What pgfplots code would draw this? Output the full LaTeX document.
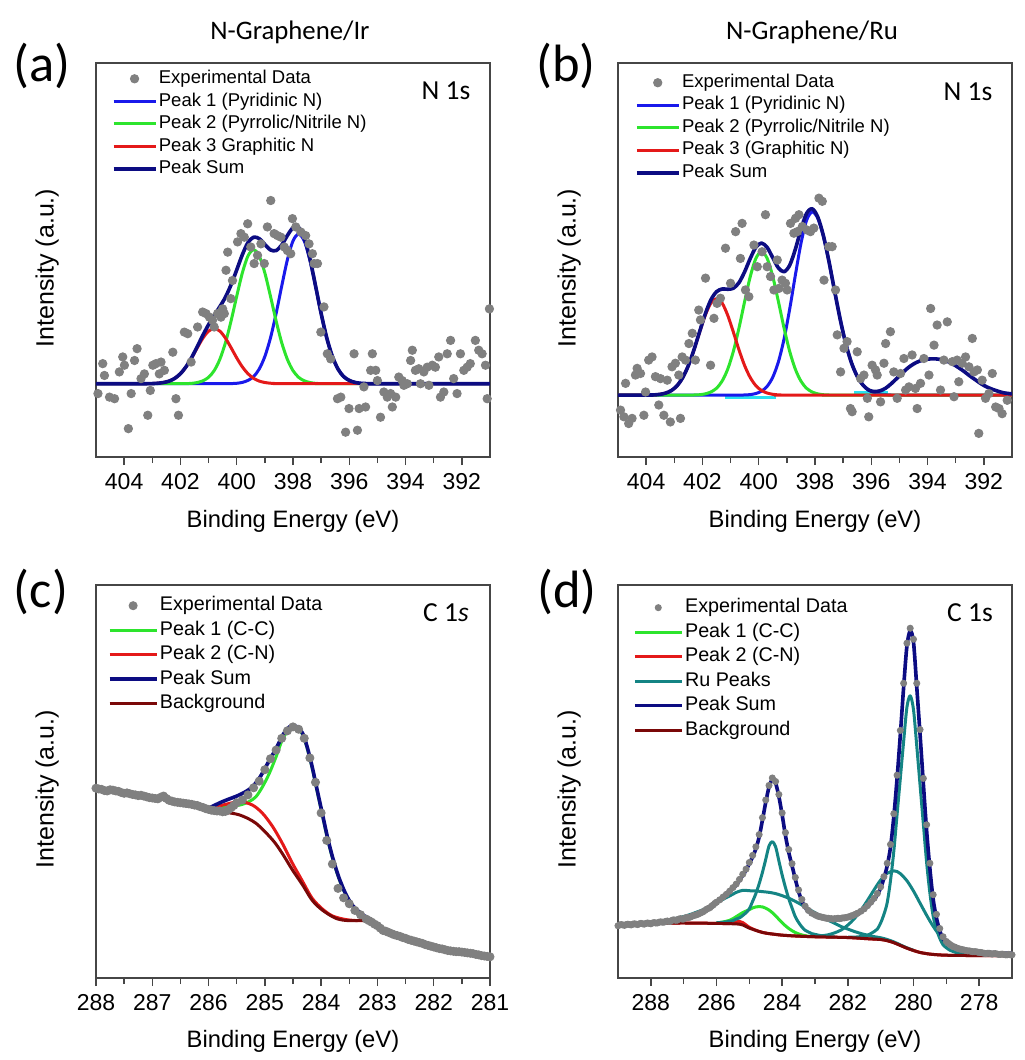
\documentclass[border=0pt]{standalone}
\usepackage{fontspec}
\setmainfont{Liberation Sans}
\newfontfamily\calfont{Carlito}
\usepackage{pgfplots}
\pgfplotsset{compat=1.18}

\definecolor{dotgray}{RGB}{128,128,128}
\definecolor{pkblue}{RGB}{25,25,235}
\definecolor{pkgreen}{RGB}{45,228,45}
\definecolor{pkred}{RGB}{228,25,25}
\definecolor{pksum}{RGB}{12,12,130}
\definecolor{bgred}{RGB}{122,8,8}
\definecolor{rupk}{RGB}{20,132,132}
\definecolor{pkcyan}{RGB}{40,225,240}
\definecolor{frame}{RGB}{70,70,70}

\pgfplotsset{
  panel/.style={
    scale only axis, width=157.6pt, height=157.6pt,
    anchor=south west,
    x dir=reverse,
    axis line style={draw=frame, line width=0.55pt},
    ytick=\empty,
    xtick pos=bottom,
    tick align=outside,
    major tick length=3.2pt, minor tick length=2.4pt,
    every tick/.style={draw=frame, line width=0.55pt},
    minor x tick num=1,
    /pgf/number format/assume math mode=true,
    /pgf/number format/1000 sep={},
    xticklabel style={font=\fontsize{9.2}{11}\selectfont},
    xlabel={Binding Energy (eV)},
    ylabel={Intensity (a.u.)},
    xlabel style={font=\fontsize{9.5}{11}\selectfont, at={(axis description cs:0.5,-0.178)}, anchor=base},
    ylabel style={font=\fontsize{10}{12}\selectfont, at={(axis description cs:-0.124,0.48)}, anchor=center},
    legend cell align=left,
    legend style={draw=none, fill=none, anchor=north west, inner sep=0pt, outer sep=0pt,
      column sep=0pt, row sep=0.8pt,
      font=\fontsize{7.4}{9}\selectfont,
      nodes={inner sep=0.6pt, text height=5.4pt, text depth=1.6pt}},
    legend image code/.code={\draw[mark repeat=2,mark phase=2,#1] plot coordinates {(0pt,0pt) (8.4pt,0pt) (16.8pt,0pt)};},
  },
  cpanel/.style={
    legend style={row sep=1.1pt, font=\fontsize{7.9}{9.5}\selectfont,
      nodes={inner sep=0.6pt, text height=5.8pt, text depth=1.7pt}},
    legend image code/.code={\draw[mark repeat=2,mark phase=2,#1] plot coordinates {(0pt,0pt) (9.4pt,0pt) (18.8pt,0pt)};},
  },
  expdata/.style={only marks, mark=*, mark size=1.65pt, draw=dotgray, fill=dotgray},
  comp/.style={line width=1.2pt, smooth, line join=round},
  sumline/.style={line width=1.45pt, smooth, line join=round, pksum},
}

\begin{document}
\begin{tikzpicture}
\useasboundingbox (0,0) rectangle (410pt,-424pt);

% ---------------- (a) N 1s, N-Graphene/Ir ----------------
\begin{axis}[panel, at={(38.4pt,-182.8pt)},
  xmin=391, xmax=405, ymin=-18.6, ymax=81.4,
  xtick={392,394,...,404},
  legend style={at={(0.04,0.986)}}]
\addplot[expdata] coordinates {
(404.93,-2.5) (404.76,5.1) (404.70,2.1) (404.52,-3.4) (404.34,-3.8) (404.17,3.0) (404.05,6.8) (403.99,4.7)
(403.85,-11.4) (403.75,-2.5) (403.63,5.9) (403.54,8.9) (403.40,1.3) (403.28,2.5) (403.16,-8.0) (403.07,-1.7)
(402.98,4.7) (402.87,5.1) (402.75,2.5) (402.69,5.5) (402.57,3.4) (402.27,8.0) (402.16,-3.8) (402.07,-8.0)
(401.86,13.1) (401.74,12.7) (401.62,5.5) (401.39,14.4) (401.21,18.2) (401.09,17.8) (400.97,16.9) (400.86,16.1)
(400.80,14.4) (400.68,17.8) (400.56,16.9) (400.50,19.0) (400.44,17.8) (400.38,28.8) (400.32,33.4) (400.21,21.6)
(400.15,26.2) (399.97,36.0) (399.85,38.1) (399.73,37.2) (399.61,40.6) (399.50,34.7) (399.38,30.5) (399.26,32.6)
(399.14,35.5) (399.02,30.5) (398.91,39.8) (398.79,46.5) (398.67,38.1) (398.55,37.6) (398.43,37.2) (398.31,34.7)
(398.20,33.8) (398.08,33.0) (398.02,41.9) (397.90,39.8) (397.72,38.5) (397.55,37.6) (397.43,35.5) (397.31,33.0)
(397.25,30.5) (397.13,30.5) (397.01,13.1) (396.90,19.5) (396.78,7.6) (396.66,6.3) (396.42,-3.8) (396.30,-3.4)
(396.13,-12.3) (396.01,-6.3) (395.83,7.6) (395.71,-11.8) (395.65,-6.3) (395.48,-0.8) (395.42,-5.9) (395.24,3.4)
(395.18,7.6) (395.06,3.4) (395.00,0.8) (394.89,-8.5) (394.77,-2.1) (394.65,-3.4) (394.53,-2.5) (394.47,-5.9)
(394.35,-3.4) (394.24,1.7) (394.12,0.8) (394.06,-0.4) (393.94,0.0) (393.82,5.9) (393.76,8.5) (393.65,3.4)
(393.53,3.8) (393.47,0.0) (393.35,3.0) (393.23,4.2) (393.17,-0.4) (393.05,4.7) (392.94,4.2) (392.82,6.8)
(392.76,-3.4) (392.64,-2.1) (392.52,7.6) (392.40,11.0) (392.29,1.3) (392.17,-2.5) (392.05,7.6) (391.93,3.4)
(391.81,4.2) (391.70,5.1) (391.52,11.0) (391.40,8.5) (391.28,7.6) (391.16,4.7) (391.10,-3.8) (391.02,19.0)
};
\addlegendentry{Experimental Data}
\addplot[comp, pkblue] coordinates {
(405,0) (400.6,0) (400.4,0) (400.2,0.04) (400.0,0.11) (399.8,0.34) (399.6,0.84) (399.4,1.82) (399.2,3.72)
(399.0,6.92) (398.8,11.63) (398.6,17.82) (398.4,24.81) (398.2,31.43) (398.0,36.25) (397.8,38) (397.6,36.25)
(397.4,31.43) (397.2,24.81) (397.0,17.82) (396.8,11.63) (396.6,6.92) (396.4,3.72) (396.2,1.82) (396.0,0.84)
(395.8,0.34) (395.6,0.11) (395.4,0.04) (395.2,0) (391,0)
};
\addlegendentry{Peak 1 (Pyridinic N)}
\addplot[comp, pkgreen] coordinates {
(405,0) (402.2,0) (402.0,0) (401.8,0.03) (401.6,0.10) (401.4,0.31) (401.2,0.75) (401.0,1.63) (400.8,3.33)
(400.6,6.19) (400.4,10.40) (400.2,15.95) (400.0,22.20) (399.8,28.12) (399.6,32.44) (399.4,34) (399.2,32.44)
(399.0,28.12) (398.8,22.20) (398.6,15.95) (398.4,10.40) (398.2,6.19) (398.0,3.33) (397.8,1.63) (397.6,0.75)
(397.4,0.31) (397.2,0.10) (397.0,0.03) (396.8,0) (391,0)
};
\addlegendentry{Peak 2 (Pyrrolic/Nitrile N)}
\addplot[comp, pkred] coordinates {
(405,0) (403.6,0) (403.4,0) (403.2,0.01) (403.0,0.04) (402.8,0.13) (402.6,0.31) (402.4,0.67) (402.2,1.37)
(402.0,2.55) (401.8,4.28) (401.6,6.57) (401.4,9.14) (401.2,11.58) (401.0,13.36) (400.8,14) (400.6,13.36)
(400.4,11.58) (400.2,9.14) (400.0,6.57) (399.8,4.28) (399.6,2.55) (399.4,1.37) (399.2,0.67) (399.0,0.31)
(398.8,0.13) (398.6,0.04) (398.4,0.01) (398.2,0) (391,0)
};
\addlegendentry{Peak 3 Graphitic N}
\addplot[sumline] coordinates {
(405,0) (403.4,0) (403.2,0.01) (403.0,0.04) (402.8,0.13) (402.6,0.31) (402.4,0.67) (402.2,1.37) (402.0,2.55)
(401.8,4.31) (401.6,6.67) (401.4,9.45) (401.2,12.33) (401.0,14.99) (400.8,17.33) (400.6,19.55) (400.4,21.98)
(400.2,25.13) (400.0,28.88) (399.8,32.74) (399.6,35.83) (399.4,37.19) (399.2,36.83) (399.0,35.35) (398.8,33.96)
(398.6,33.81) (398.4,35.22) (398.2,37.62) (398.0,39.58) (397.8,39.63) (397.6,37.0) (397.4,31.74) (397.2,24.91)
(397.0,17.85) (396.8,11.63) (396.6,6.92) (396.4,3.72) (396.2,1.82) (396.0,0.84) (395.8,0.34) (395.6,0.11)
(395.4,0.04) (395.2,0) (391,0)
};
\addlegendentry{Peak Sum}
\end{axis}

% ---------------- (b) N 1s, N-Graphene/Ru ----------------
\begin{axis}[panel, at={(247.2pt,-182.8pt)},
  xmin=391, xmax=405, ymin=-15.7, ymax=84.3,
  xtick={392,394,...,404},
  legend style={at={(0.043,0.976)}}]
\addplot[expdata] coordinates {
(404.91,-3.8) (404.79,-5.5) (404.73,3.0) (404.62,-7.2) (404.50,-5.9) (404.38,5.1) (404.32,6.8) (404.20,5.5)
(404.08,-5.1) (404.02,0.8) (403.91,8.9) (403.79,9.7) (403.67,4.7) (403.55,-2.5) (403.49,4.2) (403.37,-5.1)
(403.25,3.8) (403.14,-6.8) (403.08,7.2) (402.96,8.1) (402.84,5.1) (402.78,-5.9) (402.72,9.7) (402.60,8.9)
(402.48,13.1) (402.36,15.7) (402.25,8.9) (402.13,21.6) (402.07,19.1) (401.89,29.7) (401.71,7.6) (401.59,19.5)
(401.48,23.3) (401.36,24.6) (401.18,37.3) (401.00,28.4) (400.82,41.5) (400.65,34.7) (400.59,43.6) (400.47,26.7)
(400.35,25.0) (400.17,38.1) (400.05,32.6) (399.88,36.4) (399.76,45.8) (399.70,32.6) (399.58,30.1) (399.46,26.7)
(399.34,34.3) (399.28,27.1) (399.17,29.2) (399.05,28.4) (398.99,26.7) (398.87,43.6) (398.75,41.1) (398.69,44.9)
(398.63,41.5) (398.57,45.8) (398.45,42.8) (398.28,41.9) (398.16,41.5) (398.04,42.4) (397.86,50.0) (397.74,49.2)
(397.68,29.2) (397.51,37.7) (397.39,37.7) (397.27,26.7) (397.21,15.3) (397.09,5.9) (396.97,11.9) (396.86,13.6)
(396.74,-3.4) (396.68,-4.2) (396.50,11.0) (396.38,4.2) (396.26,5.1) (396.14,-0.8) (396.09,-5.5) (395.97,7.6)
(395.85,6.4) (395.79,5.1) (395.67,-1.7) (395.55,8.1) (395.49,13.1) (395.32,16.1) (395.20,5.9) (395.08,-0.8)
(394.96,5.5) (394.84,9.3) (394.78,1.3) (394.66,2.1) (394.55,10.2) (394.43,1.7) (394.37,-3.4) (394.25,3.0)
(394.13,9.3) (393.95,5.1) (393.89,22.0) (393.77,12.7) (393.66,17.8) (393.54,1.3) (393.42,8.9) (393.30,18.6)
(393.12,8.5) (393.06,-0.4) (392.95,8.9) (392.89,3.4) (392.77,8.1) (392.65,9.7) (392.53,7.2) (392.41,14.4)
(392.35,5.9) (392.23,6.4) (392.18,-9.7) (392.06,3.8) (391.94,-0.8) (391.82,0.4) (391.70,5.5) (391.58,-3.0)
(391.46,-3.4) (391.35,-4.7) (391.17,-1.3)
};
\addlegendentry{Experimental Data}
\addplot[line width=1.2pt, pkcyan, forget plot] coordinates {(401.2,-0.6) (399.4,-0.6)};
\addplot[line width=1.2pt, pkcyan, forget plot] coordinates {(396.6,0.8) (395.4,0.8)};
\addplot[comp, pkblue] coordinates {
(405,0) (400.9,0) (400.7,0) (400.5,0.05) (400.3,0.14) (400.1,0.42) (399.9,1.02) (399.7,2.23) (399.5,4.56)
(399.3,8.46) (399.1,14.23) (398.9,21.81) (398.7,30.36) (398.5,38.46) (398.3,44.36) (398.1,46.5) (397.9,44.87)
(397.7,40.32) (397.5,33.76) (397.3,26.32) (397.1,19.11) (396.9,12.93) (396.7,8.14) (396.5,4.79) (396.3,2.60)
(396.1,1.33) (395.9,0.63) (395.7,0.28) (395.5,0.12) (395.3,0.05) (395.1,0) (391,0)
};
\addlegendentry{Peak 1 (Pyridinic N)}
\addplot[comp, pkgreen] coordinates {
(405,0) (402.7,0) (402.5,0) (402.3,0.04) (402.1,0.11) (401.9,0.33) (401.7,0.80) (401.5,1.75) (401.3,3.57)
(401.1,6.62) (400.9,11.14) (400.7,17.07) (400.5,23.77) (400.3,30.10) (400.1,34.73) (399.9,36.4) (399.7,34.73)
(399.5,30.10) (399.3,23.77) (399.1,17.07) (398.9,11.14) (398.7,6.62) (398.5,3.57) (398.3,1.75) (398.1,0.80)
(397.9,0.33) (397.7,0.11) (397.5,0.04) (397.3,0) (391,0)
};
\addlegendentry{Peak 2 (Pyrrolic/Nitrile N)}
\addplot[comp, pkred] coordinates {
(405,0) (404.1,0) (403.9,0.02) (403.7,0.07) (403.5,0.22) (403.3,0.54) (403.1,1.18) (402.9,2.40) (402.7,4.46)
(402.5,7.50) (402.3,11.49) (402.1,16.0) (401.9,20.26) (401.7,23.37) (401.5,24.5) (401.3,23.37) (401.1,20.26)
(400.9,16.0) (400.7,11.49) (400.5,7.50) (400.3,4.46) (400.1,2.40) (399.9,1.18) (399.7,0.54) (399.5,0.22)
(399.3,0.07) (399.1,0.02) (398.9,0) (391,0)
};
\addlegendentry{Peak 3 (Graphitic N)}
\addplot[sumline] coordinates {
(405,0) (404.1,0) (403.9,0.02) (403.7,0.07) (403.5,0.22) (403.3,0.54) (403.1,1.18) (402.9,2.40) (402.7,4.46)
(402.5,7.50) (402.3,11.53) (402.1,16.11) (401.9,20.59) (401.7,24.17) (401.5,26.25) (401.3,26.94) (401.1,26.88)
(400.9,27.14) (400.7,28.56) (400.5,31.32) (400.3,34.70) (400.1,37.55) (399.9,38.60) (399.7,37.50) (399.5,34.88)
(399.3,32.30) (399.1,31.32) (398.9,32.95) (398.7,36.98) (398.5,42.03) (398.3,46.11) (398.1,47.30) (397.9,45.20)
(397.7,40.43) (397.5,33.80) (397.3,26.32) (397.1,19.11) (396.9,12.93) (396.7,8.14) (396.5,4.79) (396.3,2.60)
(396.1,1.33) (395.9,0.93) (395.7,1.08) (395.5,1.72) (395.3,2.85) (395.1,4.2) (394.9,5.6) (394.7,6.9)
(394.5,7.9) (394.3,8.6) (394.1,9.0) (393.9,9.2) (393.7,9.2) (393.5,9.0) (393.3,8.6) (393.1,7.9) (392.9,7.0)
(392.7,6.0) (392.5,4.9) (392.3,3.9) (392.1,2.9) (391.9,2.1) (391.7,1.5) (391.5,1.0) (391.3,0.6) (391.1,0.4)
(391.0,0.35)
};
\addlegendentry{Peak Sum}
\end{axis}

% ---------------- (c) C 1s, N-Graphene/Ir ----------------
\begin{axis}[panel, cpanel, at={(38.4pt,-391.2pt)}, height=157.2pt,
  xmin=281, xmax=288, ymin=0, ymax=100,
  xtick={281,282,...,288},
  legend style={at={(0.03,0.975)}}]
\addplot[expdata, mark size=1.6pt] coordinates {
(288.0,48.3) (287.95,48.1) (287.9,48.0) (287.85,47.7) (287.8,47.6) (287.75,47.9) (287.7,47.8) (287.65,47.6)
(287.6,47.5) (287.55,47.2) (287.5,47.0) (287.45,47.1) (287.4,46.9) (287.35,46.7) (287.3,46.6) (287.25,46.4)
(287.2,46.5) (287.15,46.3) (287.1,46.1) (287.05,45.9) (287.0,45.8) (286.95,45.7) (286.9,45.6) (286.85,46.0)
(286.8,46.3) (286.75,45.7) (286.7,45.2) (286.65,45.0) (286.6,44.8) (286.55,44.7) (286.5,44.6) (286.45,44.5)
(286.4,44.4) (286.35,44.3) (286.3,44.2) (286.25,44.0) (286.2,43.9) (286.15,43.6) (286.1,43.4) (286.05,43.1)
(286.0,42.9) (285.95,42.7) (285.9,42.6) (285.85,42.5) (285.8,42.5) (285.75,42.3) (285.7,42.4) (285.65,42.8)
(285.6,43.3) (285.55,43.9) (285.5,44.6) (285.4,45.3) (285.3,46.6) (285.2,48.4) (285.1,50.1) (285.0,53.0)
(284.9,55.8) (284.8,58.0) (284.7,61.0) (284.6,62.9) (284.5,63.9) (284.4,63.3) (284.3,61.0) (284.2,56.0)
(284.1,49.8) (284.0,42.0) (283.9,35.0) (283.8,29.0) (283.7,22.8) (283.6,20.4) (283.5,18.9) (283.4,17.2)
(283.3,16.1) (283.2,15.0) (283.15,14.6) (283.1,14.2) (283.05,13.7) (283.0,13.3) (282.95,12.7) (282.9,12.1)
(282.85,11.9) (282.8,11.6) (282.75,11.3) (282.7,11.0) (282.65,10.8) (282.6,10.6) (282.55,10.3) (282.5,10.1)
(282.45,9.8) (282.4,9.6) (282.35,9.4) (282.3,9.2) (282.25,9.0) (282.2,8.8) (282.15,8.5) (282.1,8.3)
(282.05,8.1) (282.0,7.9) (281.95,7.7) (281.9,7.5) (281.85,7.4) (281.8,7.2) (281.75,7.0) (281.7,6.9)
(281.65,6.8) (281.6,6.7) (281.55,6.7) (281.5,6.6) (281.45,6.5) (281.4,6.4) (281.35,6.3) (281.3,6.2)
(281.25,6.0) (281.2,5.9) (281.15,5.7) (281.1,5.6) (281.05,5.5) (281.0,5.4)
};
\addlegendentry{Experimental Data}
\addplot[comp, pkgreen] coordinates {
(286.0,43.2) (285.75,43.6) (285.45,44.0) (285.28,44.9) (285.16,46.1) (285.04,48.7) (284.92,52.1) (284.8,56.3)
(284.69,60.6) (284.57,63.3) (284.48,63.8) (284.42,63.6) (284.33,62.0) (284.25,58.6) (284.16,53.5) (284.07,47.5)
(283.98,41.6) (283.89,35.7) (283.8,30.6) (283.69,25.6) (283.57,21.4) (283.45,18.5) (283.33,16.8) (283.21,15.5)
(283.11,14.8)
};
\addlegendentry{Peak 1 (C-C)}
\addplot[comp, pkred] coordinates {
(286.0,43.2) (285.75,44.0) (285.45,44.9) (285.22,44.0) (285.04,41.9) (284.86,38.5) (284.69,34.3) (284.51,29.2)
(284.33,24.6) (284.16,20.3) (283.98,17.6) (283.8,15.8) (283.57,14.9) (283.33,14.6) (283.11,14.8)
};
\addlegendentry{Peak 2 (C-N)}
\addplot[sumline] coordinates {
(286.0,43.2) (285.75,44.9) (285.45,46.6) (285.25,48.3) (285.1,50.8) (284.95,54.6) (284.8,58.4) (284.66,62.3)
(284.54,64.1) (284.42,63.9) (284.33,62.3) (284.25,58.9) (284.16,53.8) (284.07,47.8) (283.98,41.9) (283.89,36.0)
(283.8,30.9) (283.69,25.8) (283.57,21.6) (283.45,18.6) (283.33,16.9) (283.21,15.6) (283.11,14.8)
};
\addlegendentry{Peak Sum}
\addplot[comp, bgred] coordinates {
(286.0,43.2) (285.75,42.3) (285.45,41.5) (285.16,39.4) (284.86,35.1) (284.69,31.7) (284.51,27.5) (284.33,23.7)
(284.16,19.8) (283.98,17.3) (283.74,15.2) (283.51,14.6) (283.11,14.8)
};
\addlegendentry{Background}
\end{axis}

% ---------------- (d) C 1s, N-Graphene/Ru ----------------
\begin{axis}[panel, cpanel, at={(247.2pt,-391.2pt)}, height=157.2pt,
  xmin=277, xmax=289, ymin=0, ymax=100,
  xtick={278,280,...,288},
  legend style={at={(0.038,0.970)}}]
\addplot[expdata, mark size=1.2pt] coordinates {
(289.0,13.3) (288.95,13.5) (288.9,13.6) (288.85,13.5) (288.8,13.4) (288.75,13.6) (288.7,13.7) (288.65,13.6)
(288.6,13.5) (288.55,13.7) (288.5,13.8) (288.45,13.7) (288.4,13.6) (288.35,13.8) (288.3,13.9) (288.25,13.8)
(288.2,13.7) (288.15,13.9) (288.1,14.0) (288.05,13.9) (288.0,13.8) (287.95,14.0) (287.9,14.1) (287.85,14.0)
(287.8,14.0) (287.75,14.2) (287.7,14.3) (287.65,14.2) (287.6,14.2) (287.55,14.4) (287.5,14.5) (287.45,14.4)
(287.4,14.4) (287.35,14.7) (287.3,14.8) (287.25,14.7) (287.2,14.7) (287.15,15.0) (287.1,15.1) (287.05,15.0)
(287.0,15.0) (286.95,15.3) (286.9,15.4) (286.85,15.4) (286.8,15.5) (286.75,15.7) (286.7,15.9) (286.65,16.0)
(286.6,16.1) (286.55,16.3) (286.5,16.5) (286.45,16.7) (286.4,16.9) (286.35,17.2) (286.3,17.5) (286.25,17.7)
(286.2,17.9) (286.15,18.3) (286.1,18.6) (286.05,19.0) (286.0,19.3) (285.9,19.9)
(285.8,20.6) (285.7,21.3) (285.6,22.1) (285.5,23.0) (285.4,23.9) (285.3,25.1) (285.2,26.4) (285.1,27.7)
(285.0,29.4) (284.9,31.2) (284.8,33.4) (284.7,36.5) (284.6,40.8) (284.5,45.3) (284.4,49.0) (284.3,50.9)
(284.2,50.0) (284.1,46.7) (284.0,42.0) (283.9,37.0) (283.8,32.7) (283.7,29.1) (283.6,25.6) (283.5,22.4)
(283.4,20.0) (283.3,18.3) (283.2,17.2) (283.1,16.5) (283.0,16.1) (282.95,15.9) (282.9,15.7) (282.85,15.6)
(282.8,15.5) (282.75,15.4) (282.7,15.3) (282.65,15.2) (282.6,15.2) (282.55,15.1) (282.5,15.1) (282.45,15.0)
(282.4,15.1) (282.35,15.1) (282.3,15.2) (282.25,15.1) (282.2,15.2) (282.15,15.3) (282.1,15.3) (282.05,15.4)
(282.0,15.5) (281.95,15.6) (281.9,15.8) (281.85,15.9) (281.8,16.1) (281.75,16.3) (281.7,16.5)
(281.6,17.0) (281.5,17.6) (281.4,18.4) (281.3,19.3) (281.2,20.3) (281.1,21.5)
(281.0,23.2) (280.9,25.8) (280.8,29.2) (280.7,34.0) (280.6,41.8) (280.5,51.6) (280.4,63.0) (280.3,75.0)
(280.2,85.2) (280.1,89.0) (280.0,86.2) (279.9,75.0) (279.8,63.2) (279.7,50.8) (279.6,39.0) (279.5,29.2)
(279.4,21.2) (279.3,16.2) (279.2,12.6) (279.1,10.5) (279.0,9.3) (278.95,8.9) (278.9,8.6) (278.85,8.3)
(278.8,8.0) (278.75,7.9) (278.7,7.7) (278.65,7.5) (278.6,7.4) (278.55,7.3) (278.5,7.2) (278.45,7.1)
(278.4,7.0) (278.35,6.9) (278.3,6.9) (278.25,6.8) (278.2,6.7) (278.15,6.7) (278.1,6.7) (278.05,6.6)
(278.0,6.5) (277.95,6.5) (277.9,6.4) (277.85,6.3) (277.8,6.2) (277.75,6.3) (277.7,6.3) (277.65,6.2)
(277.6,6.1) (277.55,6.2) (277.5,6.2) (277.45,6.1) (277.4,6.0) (277.35,6.0) (277.3,6.1) (277.25,6.0)
(277.2,5.9) (277.15,5.9) (277.1,6.0) (277.05,5.9) (277.0,5.9)
};
\addlegendentry{Experimental Data}
\addplot[comp, pkgreen] coordinates {
(286.0,14.0) (285.8,14.26) (285.6,14.68) (285.5,15.09) (285.4,15.61) (285.3,16.14) (285.2,16.66) (285.1,17.04)
(285.0,17.42) (284.9,17.83) (284.8,18.1) (284.7,18.17) (284.6,18.1) (284.5,17.77) (284.4,17.3) (284.3,16.63)
(284.2,15.82) (284.1,14.94) (284.0,14.06) (283.9,13.29) (283.8,12.61) (283.7,12.04) (283.6,11.58) (283.5,11.23)
(283.4,10.96) (283.3,10.77) (283.2,10.63) (283.0,10.5)
};
\addlegendentry{Peak 1 (C-C)}
\addplot[comp, pkred] coordinates {
(289.0,13.5) (288.0,13.9) (287.0,14.0) (286.0,13.9) (285.6,13.85) (285.5,14.0) (285.4,14.3) (285.3,14.4)
(285.2,14.1) (285.1,13.5) (285.0,12.9) (284.9,12.5) (284.8,12.15) (284.6,11.6) (284.4,11.3) (284.0,10.9)
(283.5,10.65) (283.0,10.5) (282.0,10.3) (281.4,10.0) (281.0,9.8) (280.8,9.5) (280.6,9.0) (280.4,8.3)
(280.2,7.6) (280.0,7.0) (279.8,6.5) (279.6,6.2) (279.4,6.0) (279.0,5.8) (278.0,5.7) (277.0,5.7)
};
\addlegendentry{Peak 2 (C-N)}
% Ru 3d components
\addplot[comp, rupk] coordinates {
(289.0,13.53) (288.8,13.65) (288.6,13.68) (288.4,13.83) (288.2,14.0) (288.0,14.2) (287.8,14.34) (287.6,14.63)
(287.4,14.89) (287.2,15.22) (287.0,15.64) (286.8,16.16) (286.6,16.78) (286.4,17.41) (286.2,18.22) (286.0,19.10)
(285.8,20.03) (285.6,20.87) (285.4,21.78) (285.2,22.31) (285.0,22.21) (284.8,22.15) (284.6,21.98) (284.4,21.8)
(284.2,21.48) (284.0,20.95) (283.8,20.31) (283.6,19.51) (283.4,18.58) (283.2,17.57) (283.0,16.63) (282.8,15.65)
(282.6,14.72) (282.4,13.91) (282.2,13.08) (282.0,12.46) (281.8,11.84) (281.6,11.32) (281.4,10.89) (281.2,10.53)
(281.0,10.24) (280.8,9.8) (280.6,9.2) (280.4,8.43) (280.2,7.68) (280.0,7.05)
};
\addlegendentry{Ru Peaks}
\addplot[comp, rupk, forget plot] coordinates {
(286.0,14.05) (285.8,14.2) (285.7,14.3) (285.6,14.4) (285.5,14.6) (285.4,15.0) (285.3,15.3) (285.2,15.9)
(285.1,16.6) (285.0,17.6) (284.9,19.5) (284.8,21.5) (284.7,24.0) (284.6,26.9) (284.5,30.2) (284.4,33.6)
(284.3,34.7) (284.2,33.4) (284.1,29.8) (284.0,26.2) (283.9,23.05) (283.8,20.2) (283.7,17.85) (283.6,15.6)
(283.5,14.15) (283.4,13.0) (283.3,12.15) (283.2,11.7) (283.1,11.3) (283.0,11.1) (282.8,10.75) (282.6,10.55)
(282.4,10.45)
};
\addplot[comp, rupk, forget plot] coordinates {
(283.0,10.64) (282.8,10.75) (282.6,11.0) (282.4,11.5) (282.2,12.23) (282.0,13.47) (281.8,15.11) (281.6,17.25)
(281.4,19.77) (281.2,22.45) (281.0,24.94) (280.8,26.65) (280.6,27.26) (280.5,27.1) (280.4,26.56) (280.2,24.75)
(280.0,22.14) (279.8,19.05) (279.6,15.97) (279.4,13.15) (279.2,10.81) (279.0,8.97) (278.8,7.73) (278.6,6.85)
(278.4,6.3) (278.2,6.0) (278.0,5.84) (277.6,5.72)
};
\addplot[comp, rupk, forget plot] coordinates {
(282.0,10.4) (281.8,10.4) (281.6,10.55) (281.4,10.9) (281.3,11.3) (281.2,11.8) (281.1,12.45) (281.0,14.0)
(280.9,16.2) (280.8,19.2) (280.7,24.8) (280.6,32.2) (280.5,41.6) (280.4,50.9) (280.3,60.2) (280.2,68.9)
(280.1,71.8) (280.0,68.3) (279.9,59.0) (279.8,49.1) (279.7,39.25) (279.6,29.4) (279.5,21.6) (279.4,15.7)
(279.3,12.45) (279.2,10.1) (279.1,8.45) (279.0,7.7) (278.9,7.1) (278.6,6.2) (278.4,5.9) (278.2,5.8)
};
\addplot[sumline] coordinates {
(289.0,13.5) (288.5,13.7) (288.0,13.9) (287.5,14.3) (287.0,15.0) (286.6,15.9) (286.3,17.6) (286.0,19.3)
(285.8,20.4) (285.6,21.9) (285.4,23.6) (285.3,24.9) (285.2,26.1) (285.1,27.4) (285.0,29.1) (284.9,30.8)
(284.8,32.9) (284.7,35.9) (284.6,40.2) (284.5,44.7) (284.4,48.6) (284.3,50.5) (284.2,49.6) (284.1,46.2)
(284.0,41.5) (283.9,36.3) (283.8,32.0) (283.7,28.6) (283.6,25.2) (283.5,22.0) (283.4,19.6) (283.3,18.0)
(283.2,16.9) (283.0,15.9) (282.8,15.3) (282.6,15.0) (282.4,15.0) (282.2,15.1) (282.0,15.3) (281.8,15.9)
(281.6,16.8) (281.4,18.2) (281.2,20.0) (281.1,21.2) (281.0,22.9) (280.9,25.4) (280.8,28.6) (280.7,33.3)
(280.6,41.0) (280.5,50.8) (280.4,62.0) (280.3,74.0) (280.2,84.5) (280.1,88.3) (280.0,85.5) (279.9,74.0)
(279.8,62.0) (279.7,49.5) (279.6,37.5) (279.5,27.8) (279.4,20.0) (279.3,15.3) (279.2,12.0) (279.1,10.0)
(279.0,8.9) (278.8,7.7) (278.5,7.1) (278.0,6.6) (277.5,6.4) (277.0,6.3)
};
\addlegendentry{Peak Sum}
\addplot[comp, bgred] coordinates {
(289.0,13.5) (288.0,13.9) (287.0,14.0) (286.0,13.9) (285.5,13.8) (285.3,13.7) (285.2,13.5) (285.1,13.1)
(285.0,12.7) (284.9,12.4) (284.8,12.1) (284.6,11.6) (284.4,11.3) (284.2,11.1) (284.0,10.9) (283.5,10.65)
(283.0,10.5) (282.0,10.3) (281.4,10.0) (281.0,9.8) (280.8,9.5) (280.6,9.0) (280.4,8.3) (280.2,7.6)
(280.0,7.0) (279.8,6.5) (279.6,6.2) (279.4,6.0) (279.0,5.8) (278.0,5.7) (277.0,5.7)
};
\addlegendentry{Background}
\end{axis}

% ---------------- titles and panel letters ----------------
\node[font=\calfont\fontsize{10.7}{12}\selectfont] at (116pt,-12.8pt) {N-Graphene/Ir};
\node[font=\calfont\fontsize{10.7}{12}\selectfont] at (324.8pt,-12.8pt) {N-Graphene/Ru};
\node[font=\calfont\fontsize{21}{24}\selectfont] at (16.8pt,-26.4pt) {(a)};
\node[font=\calfont\fontsize{21}{24}\selectfont] at (226.4pt,-26.4pt) {(b)};
\node[font=\calfont\fontsize{21}{24}\selectfont] at (16.4pt,-236.8pt) {(c)};
\node[font=\calfont\fontsize{21}{24}\selectfont] at (226.8pt,-236.8pt) {(d)};
\node[font=\calfont\fontsize{11}{13}\selectfont] at (178.4pt,-36.4pt) {N 1s};
\node[font=\calfont\fontsize{11}{13}\selectfont] at (387.2pt,-36.8pt) {N 1s};
\node[font=\calfont\fontsize{11}{13}\selectfont] at (178.4pt,-245.2pt) {C 1\textit{s}};
\node[font=\calfont\fontsize{11}{13}\selectfont] at (388pt,-245.2pt) {C 1s};
\end{tikzpicture}
\end{document}
